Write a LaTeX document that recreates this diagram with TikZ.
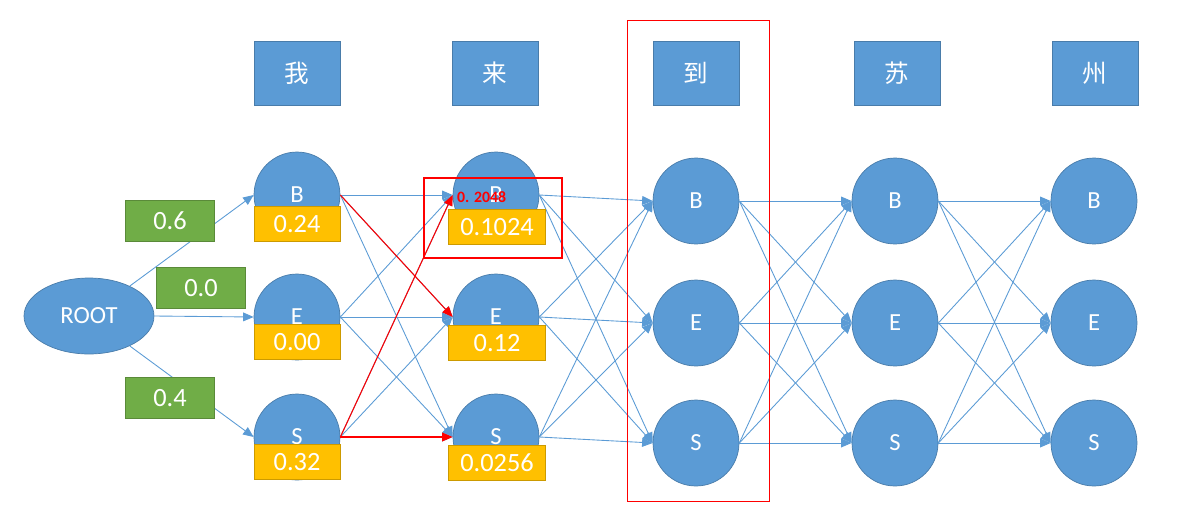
\documentclass[tikz,border=0pt]{standalone}
\usepackage{fontspec}
\setmainfont{Carlito}
\newfontfamily\cjk{Noto Sans CJK SC}
\usetikzlibrary{arrows.meta,shapes.geometric}
\definecolor{nodeblue}{HTML}{5B9BD5}
\definecolor{edgeblue}{HTML}{5B9BD5}
\definecolor{probyellow}{HTML}{FFC000}
\definecolor{probgreen}{HTML}{70AD47}
\tikzset{
  state/.style={circle,fill=nodeblue,draw=nodeblue!80!black,minimum size=1.72cm,inner sep=0pt,text=white,font=\fontsize{14}{16}\selectfont},
  word/.style={rectangle,fill=nodeblue,draw=nodeblue!80!black,minimum width=1.72cm,minimum height=1.28cm,text=white,font=\cjk\fontsize{14}{16}\selectfont},
  prob/.style={rectangle,fill=probyellow,draw=probyellow!80!black,minimum height=0.7cm,text=white,font=\fontsize{15}{17}\selectfont},
  trans/.style={rectangle,fill=probgreen,draw=probgreen!80!black,minimum width=1.78cm,minimum height=0.82cm,text=white,font=\fontsize{15}{17}\selectfont},
  link/.style={draw=edgeblue,line width=0.5pt,-{Triangle[length=6pt,width=5pt]}},
  best/.style={draw=red,line width=0.6pt,-{Triangle[length=6pt,width=5pt]}}
}
\begin{document}
\begin{tikzpicture}[x=0.02cm,y=-0.02cm]
\useasboundingbox (0,0) rectangle (1187,518);
% chinese words
\node[word] (w1) at (297,73) {我};
\node[word] (w2) at (495,73) {来};
\node[word] (w3) at (696,73) {到};
\node[word] (w4) at (897,73) {苏};
\node[word] (w5) at (1095,73) {州};
% root
\node[ellipse,fill=nodeblue,draw=nodeblue!80!black,minimum width=2.6cm,minimum height=1.52cm,text=white,font=\fontsize{14}{16}\selectfont] (root) at (89,316) {ROOT};
% states
\foreach \c/\x/\dy in {1/297/0,2/496/0,3/696/6,4/895/6,5/1094/6}{
  \node[state] (b\c) at (\x,195+\dy) {B};
  \node[state] (e\c) at (\x,317+\dy) {E};
  \node[state] (s\c) at (\x,437+\dy) {S};
}
% transitions
\draw[link] (root) -- (b1.west);
\draw[link] (root.east) -- (e1.west);
\draw[link] (root) -- (s1.west);
\foreach \c/\n in {1/2,2/3,3/4,4/5}{
  \foreach \a in {b,e,s}{
    \foreach \z in {b,e,s}{
      \draw[link] (\a\c.east) -- (\z\n.west);
    }
  }
}
\draw[best] (b1.east) -- (e2.west);
\draw[best] (s1.east) -- (b2.west);
\draw[best] (s1.east) -- (s2.west);
% probabilities
\node[trans] (t1) at (170,221) {0.6};
\node[trans] (t2) at (201,288) {0.0};
\node[trans] (t3) at (170,398) {0.4};
\node[prob,minimum width=1.72cm] (p1) at (297,224) {0.24};
\node[prob,minimum width=1.72cm] (p2) at (297,342) {0.00};
\node[prob,minimum width=1.72cm] (p3) at (297,462) {0.32};
\node[prob,minimum width=1.94cm] (p4) at (497,227) {0.1024};
\node[prob,minimum width=1.94cm] (p5) at (497,343) {0.12};
\node[prob,minimum width=1.94cm] (p6) at (497,463) {0.0256};
\node[text=red,font=\bfseries\fontsize{9}{10}\selectfont,anchor=west,inner sep=1pt] (v) at (455,197) {0. 2048};
% highlights
\draw[red,line width=1pt] (424,178) rectangle (562,258);
\draw[red,line width=0.5pt] (627,20) rectangle (769,501);
\end{tikzpicture}
\end{document}
